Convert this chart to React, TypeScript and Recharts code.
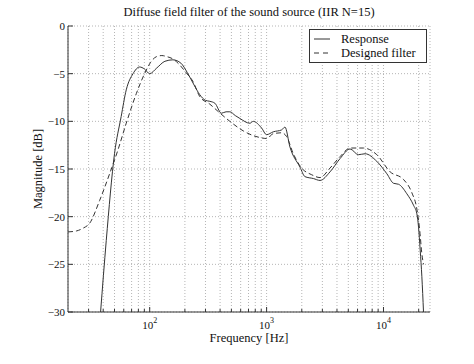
import { LineChart, Line, XAxis, YAxis, CartesianGrid, Legend } from 'recharts';

// measured response of the source (solid)
const responseFreq = [
  38, 42.5, 50, 57, 63, 72, 82, 90, 100, 115, 135, 158, 185, 210, 240, 268, 300, 327, 361, 411,
  450, 485, 540, 591, 720, 769, 906, 1000, 1140, 1345, 1436, 1585, 1930, 2130, 2512, 2865, 3490,
  4255, 5180, 6100, 6960, 8770, 10690, 12200, 13450, 15850, 18070, 19300, 19950, 20600, 21300, 22000,
];
const responseDb = [
  -30, -22.5, -13.4, -9.5, -6.7, -5.0, -4.3, -4.5, -5.0, -4.4, -3.7, -3.55, -3.9, -4.9, -6.2, -7.2,
  -7.8, -7.9, -8.1, -9.15, -9.0, -9.0, -9.4, -9.7, -10.2, -10.0, -10.7, -11.4, -11.1, -10.9, -10.6,
  -12.7, -14.8, -15.8, -16.0, -16.2, -15.3, -13.9, -12.9, -13.5, -13.4, -14.2, -15.5, -16.5, -16.6,
  -17.6, -18.8, -19.7, -21.1, -23.5, -26.3, -30,
];

// IIR filter fit (dashed)
const filterFreq = [
  20, 23.6, 27, 30.6, 37.3, 45.4, 53.5, 63, 77, 90.6, 102, 114, 127, 139, 160, 181, 205, 235, 268,
  327, 396, 485, 631, 769, 877, 1000, 1140, 1345, 1483, 1693, 1995, 2430, 2865, 3490, 4255, 5180,
  6740, 8770, 11400, 14840, 17500, 19300, 20400, 21300, 22000,
];
const filterDb = [
  -21.6, -21.5, -21.2, -20.7, -18.3, -15.5, -13.0, -10.2, -7.06, -4.97, -3.8, -3.22, -3.1, -3.2,
  -3.5, -4.1, -4.9, -5.84, -7.4, -8.2, -9.1, -10.0, -11.0, -11.5, -11.7, -11.8, -11.3, -11.2, -11.6,
  -13.4, -14.9, -15.6, -15.9, -14.9, -13.7, -12.8, -12.8, -13.5, -15.3, -16.1, -17.5, -19.2, -21.4,
  -23.9, -25.0,
];

const xTicks = [
  30, 40, 50, 60, 70, 80, 90, 100, 200, 300, 400, 500, 600, 700, 800, 900, 1000, 2000, 3000, 4000,
  5000, 6000, 7000, 8000, 9000, 10000, 20000,
];
const yTicks = [-30, -25, -20, -15, -10, -5, 0];

const responseData = responseFreq.map((f, i) => ({ f, db: responseDb[i] }));
const filterData = filterFreq.map((f, i) => ({ f, db: filterDb[i] }));

const INK = '#333';
const FONT = '"Liberation Serif", "Times New Roman", serif';

const isDecade = (v: number) => Math.abs(Math.log10(v) - Math.round(Math.log10(v))) < 1e-6;

function BottomTick({ x, y, payload }: any) {
  const v = payload.value;
  const major = isDecade(v);
  return (
    <g>
      <line x1={x} x2={x} y1={y} y2={y - (major ? 5 : 3)} stroke={INK} />
      {major && (
        <text x={x} y={y + 17} textAnchor="middle" fontSize={11} fill="#111" fontFamily={FONT}>
          <tspan>10</tspan>
          <tspan dy={-6} fontSize={8}>{Math.round(Math.log10(v))}</tspan>
        </text>
      )}
    </g>
  );
}

function TopTick({ x, y, payload }: any) {
  const major = isDecade(payload.value);
  return <line x1={x} x2={x} y1={y} y2={y + (major ? 5 : 3)} stroke={INK} />;
}

function LeftTick({ x, y, payload }: any) {
  const v = payload.value;
  return (
    <g>
      <line x1={x} x2={x + 5} y1={y} y2={y} stroke={INK} />
      <text x={x - 3} y={y + 4} textAnchor="end" fontSize={11} fill="#111" fontFamily={FONT}>
        {v < 0 ? `\u2212${Math.abs(v)}` : v}
      </text>
    </g>
  );
}

function RightTick({ x, y }: any) {
  return <line x1={x} x2={x - 5} y1={y} y2={y} stroke={INK} />;
}

function LegendBox() {
  const row = { display: 'flex', alignItems: 'center', height: 14, whiteSpace: 'nowrap' as const };
  return (
    <div
      style={{
        boxSizing: 'border-box',
        width: 118,
        border: `1px solid ${INK}`,
        background: '#fff',
        padding: '2px 0 2px 0',
        fontSize: 12.5,
        fontFamily: FONT,
        color: '#111',
        lineHeight: '14px',
      }}
    >
      <div style={row}>
        <svg width={31} height={10}>
          <line x1={4} x2={20} y1={5} y2={5} stroke={INK} />
        </svg>
        <span>Response</span>
      </div>
      <div style={row}>
        <svg width={31} height={10}>
          <line x1={4} x2={20} y1={5} y2={5} stroke={INK} strokeDasharray="5 4" />
        </svg>
        <span>Designed filter</span>
      </div>
    </div>
  );
}

export default function App() {
  return (
    <div style={{ position: 'absolute', left: 0, top: 0, width: 474, height: 364, fontFamily: FONT }}>
      <div
        style={{
          position: 'absolute',
          left: 68,
          top: 4,
          width: 362,
          textAlign: 'center',
          fontSize: 12.5,
          lineHeight: '16px',
          color: '#111',
          whiteSpace: 'nowrap',
        }}
      >
        Diffuse field filter of the sound source (IIR N=15)
      </div>
      <LineChart width={474} height={364} margin={{ top: 26, right: 44, bottom: 22, left: 28 }}>
        <CartesianGrid stroke="#b5b5b5" strokeDasharray="1 2" />
        <XAxis
          dataKey="f"
          type="number"
          scale="log"
          domain={[20, 25000]}
          allowDataOverflow
          ticks={xTicks}
          interval={0}
          height={30}
          tickSize={0}
          tickMargin={0}
          tickLine={false}
          tick={<BottomTick />}
          axisLine={{ stroke: INK }}
          label={{ value: 'Frequency [Hz]', position: 'insideBottom', offset: 0, fontSize: 12.5, fill: '#111', fontFamily: FONT }}
        />
        <XAxis
          xAxisId="top"
          orientation="top"
          type="number"
          scale="log"
          domain={[20, 25000]}
          allowDataOverflow
          ticks={xTicks}
          interval={0}
          height={0}
          tickSize={0}
          tickMargin={0}
          tickLine={false}
          tick={<TopTick />}
          axisLine={{ stroke: INK }}
        />
        <YAxis
          type="number"
          domain={[-30, 0]}
          allowDataOverflow
          ticks={yTicks}
          interval={0}
          width={40}
          tickSize={0}
          tickMargin={0}
          tickLine={false}
          tick={<LeftTick />}
          axisLine={{ stroke: INK }}
          label={{
            value: 'Magnitude [dB]',
            angle: -90,
            position: 'insideLeft',
            offset: 10,
            fontSize: 12.5,
            fill: '#111',
            fontFamily: FONT,
            style: { textAnchor: 'middle' },
          }}
        />
        <YAxis
          yAxisId="right"
          orientation="right"
          type="number"
          domain={[-30, 0]}
          allowDataOverflow
          ticks={yTicks}
          interval={0}
          width={0}
          tickSize={0}
          tickMargin={0}
          tickLine={false}
          tick={<RightTick />}
          axisLine={{ stroke: INK }}
        />
        <Legend
          layout="vertical"
          align="center"
          verticalAlign="middle"
          wrapperStyle={{ left: 309, top: 29, width: 118 }}
          content={() => <LegendBox />}
        />
        <Line
          data={responseData}
          dataKey="db"
          type="monotone"
          stroke={INK}
          strokeWidth={1}
          dot={false}
          isAnimationActive={false}
        />
        <Line
          data={filterData}
          dataKey="db"
          type="monotone"
          stroke={INK}
          strokeWidth={1}
          strokeDasharray="5 3"
          dot={false}
          isAnimationActive={false}
        />
      </LineChart>
    </div>
  );
}
